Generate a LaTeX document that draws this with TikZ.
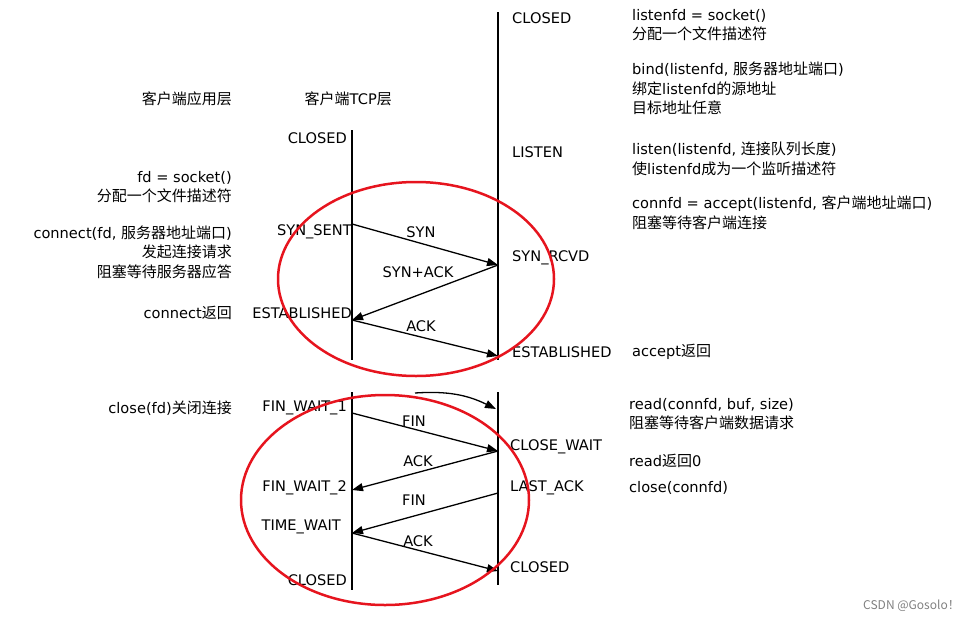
\documentclass[tikz,border=0pt]{standalone}
\usepackage{fontspec}
\setmainfont{DejaVu Sans}
\newfontfamily\cjkf{Noto Sans CJK SC}
\newcommand{\zh}[1]{{\cjkf\fontsize{15}{19}\selectfont #1}}
\usetikzlibrary{arrows.meta}
\begin{document}
\begin{tikzpicture}[x=1pt,y=-1pt,
 lab/.style={font=\fontsize{14.6}{19.5}\selectfont,inner sep=0pt},
 rl/.style={lab,anchor=east,align=right},
 ll/.style={lab,anchor=west,align=left},
 life/.style={line width=1.6pt},
 msg/.style={line width=1.3pt,-{Triangle[length=11pt,width=8pt]}},
 ring/.style={draw={rgb,255:red,230;green,20;blue,30},line width=2.5pt}]
\useasboundingbox (0,0) rectangle (971,621);
% lifelines
\coordinate (c1) at (352,130); \coordinate (c2) at (352,360);
\coordinate (c3) at (352,392); \coordinate (c4) at (352,590);
\coordinate (s1) at (498,12); \coordinate (s2) at (498,360);
\coordinate (s3) at (498,392); \coordinate (s4) at (498,585);
\draw[life] (c1)--(c2); \draw[life] (c3)--(c4);
\draw[life] (s1)--(s2); \draw[life] (s3)--(s4);
% message points
\coordinate (a1) at (352,224); \coordinate (b1) at (498,265);
\coordinate (a2) at (352,320); \coordinate (b2) at (498,356);
\coordinate (t0) at (415,393); \coordinate (t1) at (496,409);
\coordinate (a3) at (352,413); \coordinate (b3) at (498,451);
\coordinate (a4) at (352,490); \coordinate (b4) at (498,493);
\coordinate (a5) at (352,533); \coordinate (b5) at (498,571);
\draw[msg] (a1)--(b1); \draw[msg] (b1)--(a2); \draw[msg] (a2)--(b2);
\draw[msg] (t0) to[bend left=15] (t1);
\draw[msg] (a3)--(b3); \draw[msg] (b3)--(a4); \draw[msg] (b4)--(a5); \draw[msg] (a5)--(b5);
% message labels
\node[lab] (m1) at (421,232) {SYN};
\node[lab] (m2) at (418,272) {SYN+ACK};
\node[lab] (m3) at (421,326) {ACK};
\node[lab] (m4) at (414,421) {FIN};
\node[lab] (m5) at (418,461) {ACK};
\node[lab] (m6) at (414,500) {FIN};
\node[lab] (m7) at (418,541) {ACK};
% client app
\node[rl] (h1) at (232,99) {\zh{客户端应用层}};
\node[rl] (h2) at (392,99) {\zh{客户端}TCP\zh{层}};
\node[rl] (ca1) at (232,187) {fd = socket()\\\zh{分配一个文件描述符}};
\node[rl] (ca2) at (232,252) {connect(fd, \zh{服务器地址端口})\\\zh{发起连接请求}\\\zh{阻塞等待服务器应答}};
\node[rl] (ca3) at (232,313) {connect\zh{返回}};
\node[rl] (ca4) at (232,408) {close(fd)\zh{关闭连接}};
% client states
\node[rl] (cs1) at (347,138) {CLOSED};
\node[rl] (cs2) at (352,232) {SYN\_SENT};
\node[rl] (cs3) at (352,313) {ESTABLISHED};
\node[rl] (cs4) at (347,408) {FIN\_WAIT\_1};
\node[rl] (cs5) at (347,488) {FIN\_WAIT\_2};
\node[rl] (cs6) at (341,527) {TIME\_WAIT};
\node[rl] (cs7) at (347,580) {CLOSED};
% server states
\node[ll] (ss1) at (512,18) {CLOSED};
\node[ll] (ss2) at (512,152) {LISTEN};
\node[ll] (ss3) at (512,258) {SYN\_RCVD};
\node[ll] (ss4) at (512,352) {ESTABLISHED};
\node[ll] (ss5) at (510,447) {CLOSE\_WAIT};
\node[ll] (ss6) at (510,488) {LAST\_ACK};
\node[ll] (ss7) at (510,567) {CLOSED};
% server app
\node[ll,anchor=north west] (sa1) at (632,9) {listenfd = socket()\\\zh{分配一个文件描述符}};
\node[ll,anchor=north west] (sa2) at (632,62) {bind(listenfd, \zh{服务器地址端口})\\\zh{绑定}listenfd\zh{的源地址}\\\zh{目标地址任意}};
\node[ll,anchor=north west] (sa3) at (632,142) {listen(listenfd, \zh{连接队列长度})\\\zh{使}listenfd\zh{成为一个监听描述符}};
\node[ll,anchor=north west] (sa4) at (632,196) {connfd = accept(listenfd, \zh{客户端地址端口})\\\zh{阻塞等待客户端连接}};
\node[ll] (sa5) at (632,352) {accept\zh{返回}};
\node[ll,anchor=north west] (sa6) at (629,398) {read(connfd, buf, size)\\\zh{阻塞等待客户端数据请求}};
\node[ll] (sa7) at (629,461) {read\zh{返回}0};
\node[ll] (sa8) at (629,488) {close(connfd)};
% red rings
\draw[ring] (416,279) ellipse [x radius=138, y radius=97];
\draw[ring] (385,500) ellipse [x radius=144, y radius=105];
\node[anchor=east,text=gray,inner sep=0pt] (wm) at (960,606) {\cjkf\fontsize{12}{14}\selectfont CSDN @Gosolo！};
\end{tikzpicture}
\end{document}
